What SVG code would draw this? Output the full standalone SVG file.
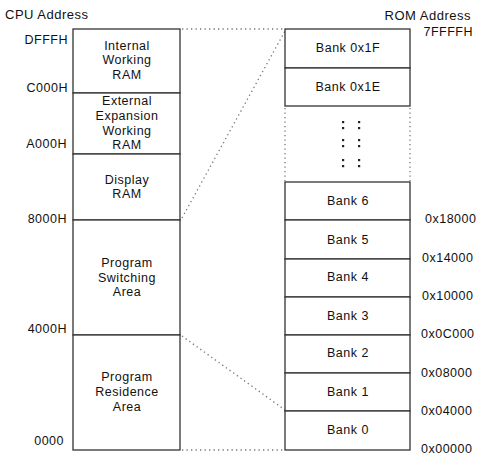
<svg xmlns="http://www.w3.org/2000/svg" width="500" height="468" viewBox="0 0 500 468">
<style>
text{font-family:"Liberation Sans",Arial,sans-serif;font-size:12.5px;fill:#111;letter-spacing:0.5px}
.c{text-anchor:middle}
.r{text-anchor:end}
.box{fill:#fff;stroke:#333;stroke-width:1.3}
.sep{stroke:#333;stroke-width:1.3}
.dot{stroke:#777;stroke-width:1.3;stroke-dasharray:1.3 3.2;fill:none}
</style>
<rect width="500" height="468" fill="#fff"/>
<text x="5" y="19" style="font-size:13px">CPU Address</text>
<text x="471" y="20" class="r" style="font-size:13px">ROM Address</text>
<text x="473" y="36" class="r">7FFFFH</text>
<g id="connectors">
<line class="dot" x1="182" y1="29" x2="285" y2="29"/>
<line class="dot" x1="182" y1="218" x2="285" y2="31"/>
<line class="dot" x1="182" y1="336" x2="285" y2="410"/>
<line class="dot" x1="182" y1="450" x2="285" y2="450"/>
</g>
<g id="cpu-labels">
<text x="68" y="44" class="r">DFFFH</text>
<text x="68" y="92" class="r">C000H</text>
<text x="67" y="148" class="r">A000H</text>
<text x="67" y="223" class="r">8000H</text>
<text x="67" y="333" class="r">4000H</text>
<text x="64" y="445" class="r">0000</text>
</g>
<g id="internal-ram">
<rect class="box" x="73" y="29" width="107" height="64"/>
<text x="127" y="50" class="c">Internal</text>
<text x="127" y="64" class="c">Working</text>
<text x="127" y="79" class="c">RAM</text>
</g>
<g id="external-ram">
<rect class="box" x="73" y="93" width="107" height="61"/>
<text x="127" y="105" class="c">External</text>
<text x="127" y="120" class="c">Expansion</text>
<text x="127" y="135" class="c">Working</text>
<text x="127" y="149" class="c">RAM</text>
</g>
<g id="display-ram">
<rect class="box" x="73" y="154" width="107" height="66"/>
<text x="127" y="184" class="c">Display</text>
<text x="127" y="198" class="c">RAM</text>
</g>
<g id="switching-area">
<rect class="box" x="73" y="220" width="107" height="115"/>
<text x="127" y="267" class="c">Program</text>
<text x="127" y="282" class="c">Switching</text>
<text x="127" y="296" class="c">Area</text>
</g>
<g id="residence-area">
<rect class="box" x="73" y="335" width="107" height="115"/>
<text x="127" y="381" class="c">Program</text>
<text x="127" y="396" class="c">Residence</text>
<text x="127" y="411" class="c">Area</text>
</g>
<g id="bank-1f">
<rect class="box" x="285" y="29" width="125" height="39"/>
<text x="348" y="52" class="c">Bank 0x1F</text>
</g>
<g id="bank-1e">
<rect class="box" x="285" y="68" width="125" height="38"/>
<text x="348" y="91" class="c">Bank 0x1E</text>
</g>
<g id="bank-ellipsis">
<line class="dot" x1="285" y1="108" x2="285" y2="181"/>
<line class="dot" x1="410" y1="108" x2="410" y2="181"/>
<g fill="#222">
<rect x="342" y="121" width="2.2" height="2.2"/><rect x="342" y="127" width="2.2" height="2.2"/>
<rect x="358" y="121" width="2.2" height="2.2"/><rect x="358" y="127" width="2.2" height="2.2"/>
<rect x="342" y="139" width="2.2" height="2.2"/><rect x="342" y="145" width="2.2" height="2.2"/>
<rect x="358" y="139" width="2.2" height="2.2"/><rect x="358" y="145" width="2.2" height="2.2"/>
<rect x="342" y="159" width="2.2" height="2.2"/><rect x="342" y="165" width="2.2" height="2.2"/>
<rect x="358" y="159" width="2.2" height="2.2"/><rect x="358" y="165" width="2.2" height="2.2"/>
</g>
</g>
<g id="bank-6">
<rect class="box" x="285" y="182" width="125" height="38"/>
<text x="348" y="205" class="c">Bank 6</text>
</g>
<g id="bank-5">
<rect class="box" x="285" y="220" width="125" height="39"/>
<text x="348" y="244" class="c">Bank 5</text>
</g>
<g id="bank-4">
<rect class="box" x="285" y="259" width="125" height="38"/>
<text x="348" y="281" class="c">Bank 4</text>
</g>
<g id="bank-3">
<rect class="box" x="285" y="297" width="125" height="38"/>
<text x="348" y="320" class="c">Bank 3</text>
</g>
<g id="bank-2">
<rect class="box" x="285" y="335" width="125" height="38"/>
<text x="348" y="357" class="c">Bank 2</text>
</g>
<g id="bank-1">
<rect class="box" x="285" y="373" width="125" height="38"/>
<text x="348" y="396" class="c">Bank 1</text>
</g>
<g id="bank-0">
<rect class="box" x="285" y="411" width="125" height="39"/>
<text x="348" y="434" class="c">Bank 0</text>
</g>
<g id="rom-labels">
<text x="425" y="223">0x18000</text>
<text x="422" y="262">0x14000</text>
<text x="422" y="300">0x10000</text>
<text x="421" y="338">0x0C000</text>
<text x="421" y="377">0x08000</text>
<text x="421" y="415">0x04000</text>
<text x="421" y="453">0x00000</text>
</g>
</svg>
